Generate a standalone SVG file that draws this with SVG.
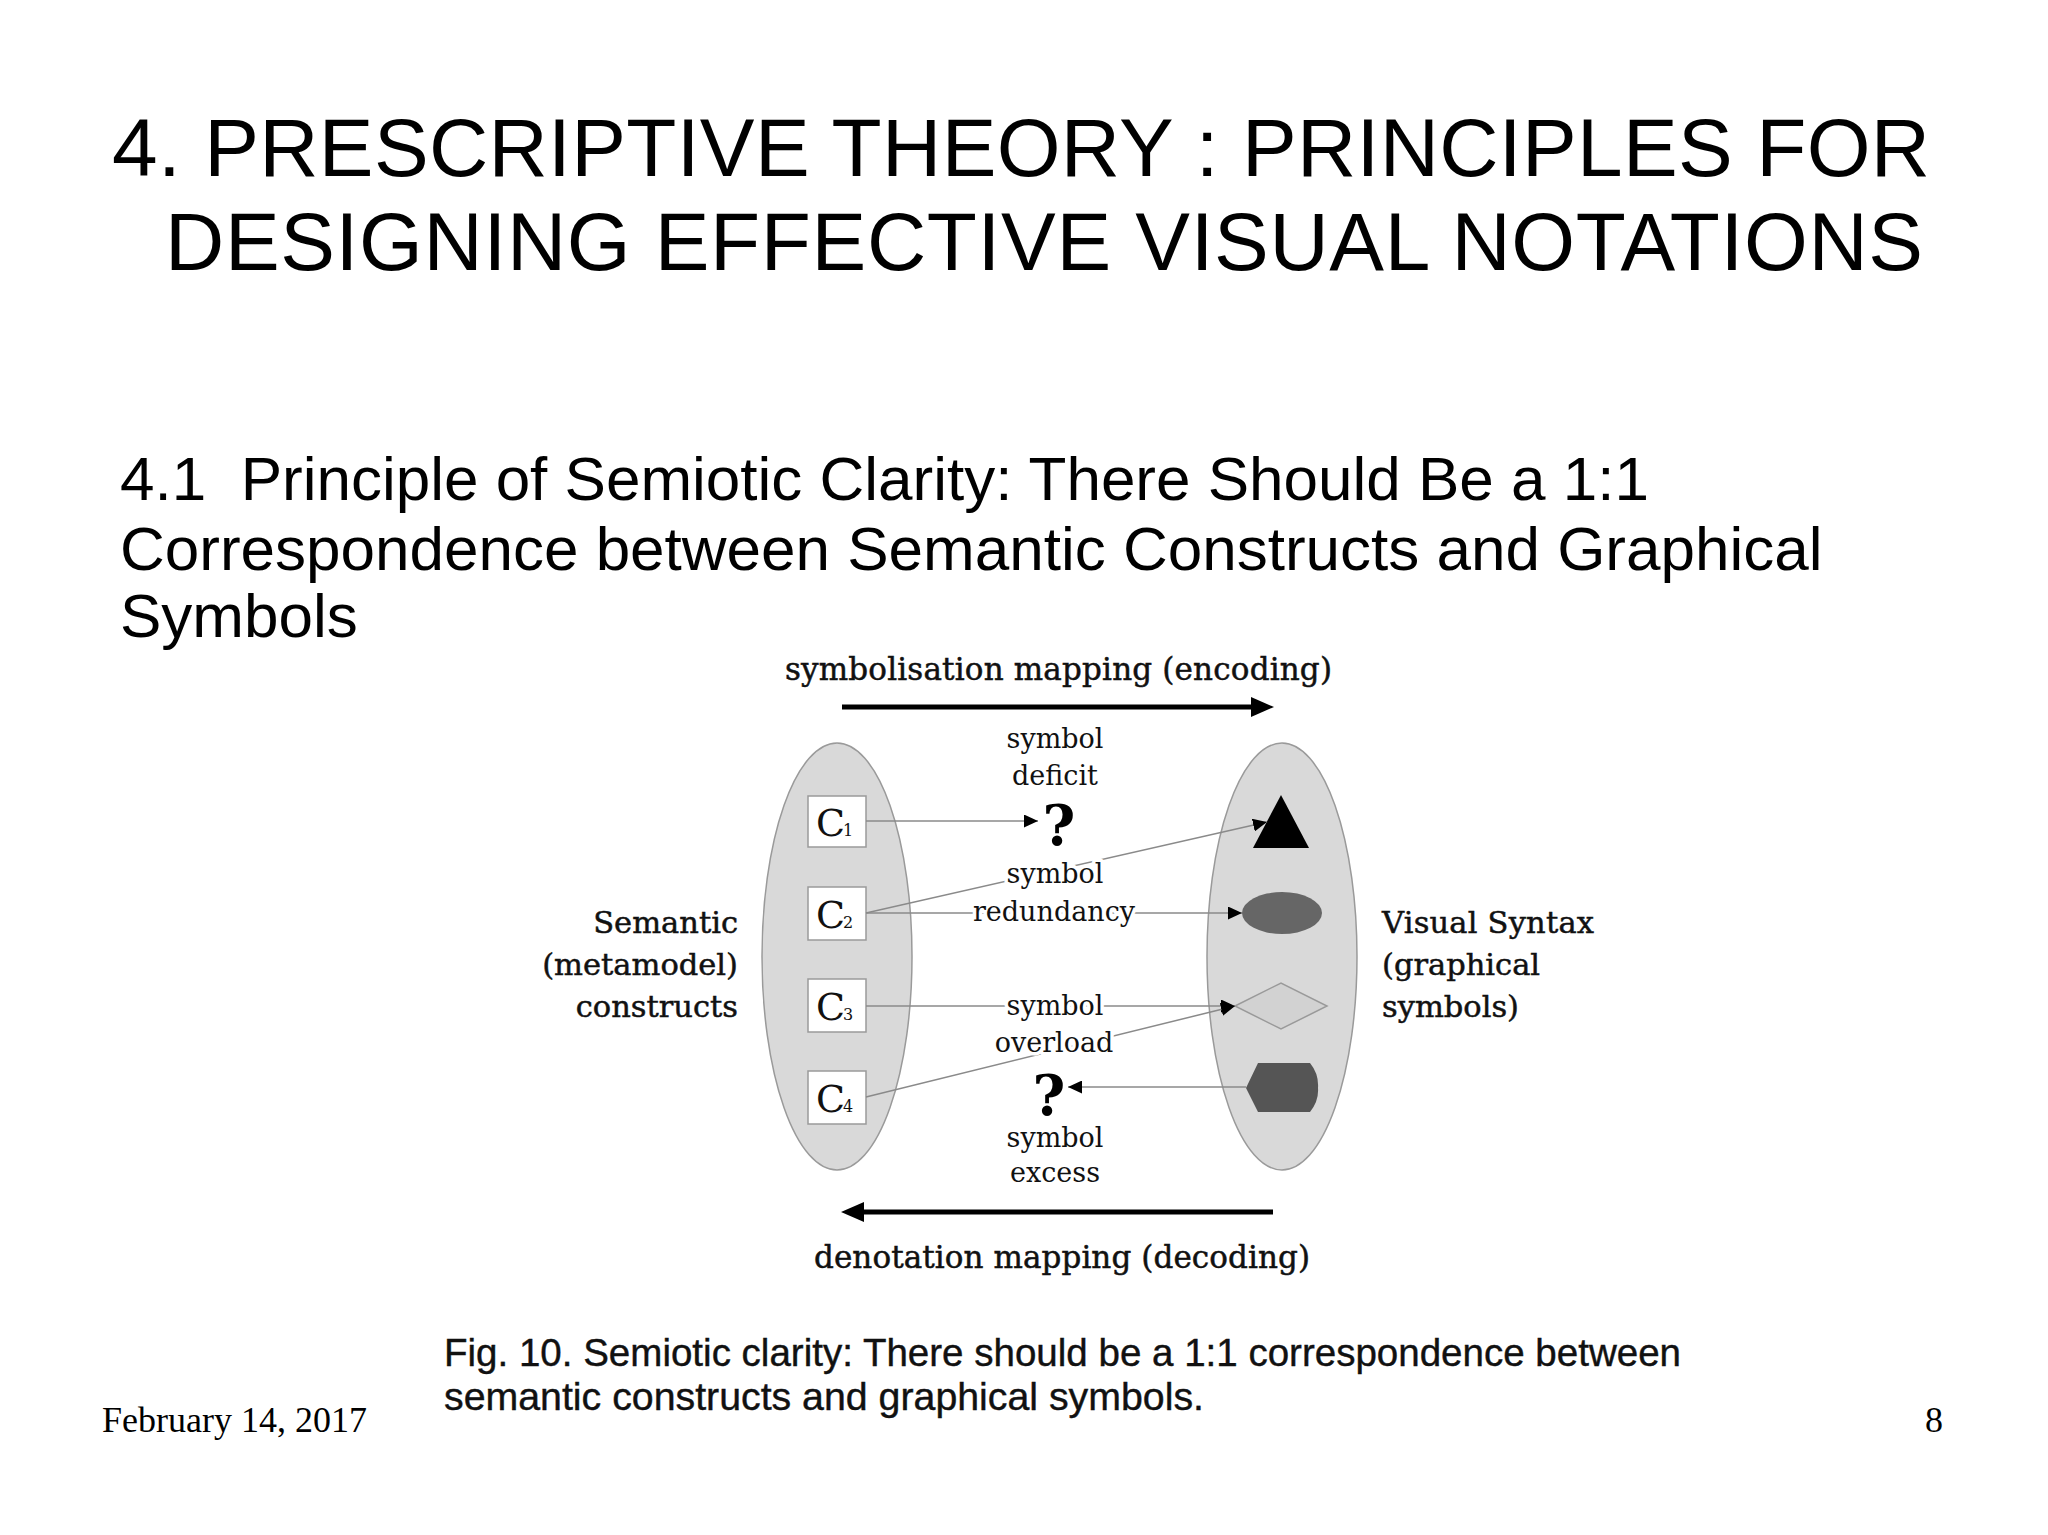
<svg xmlns="http://www.w3.org/2000/svg" width="2048" height="1535" viewBox="0 0 2048 1535">
<style>
.title{font-family:"Liberation Sans",Arial,sans-serif;font-size:82px;fill:#000}
.sub{font-family:"Liberation Sans",Arial,sans-serif;font-size:62px;fill:#000}
.ser{font-family:"DejaVu Serif",Georgia,serif;fill:#111}
.dk{stroke:#111;stroke-width:0.5px}
.lbl{font-size:30.5px}
.mid{font-size:27px;text-anchor:middle;stroke:#fff;stroke-width:7px;paint-order:stroke;stroke-linejoin:round}
.q{font-family:"DejaVu Serif",Georgia,serif;font-weight:bold;font-size:56px;text-anchor:middle;fill:#000}
.c{font-family:"DejaVu Serif",Georgia,serif;font-size:38px;fill:#111}
.cs{font-family:"DejaVu Serif",Georgia,serif;font-size:16px;fill:#111}
.box{fill:#fff;stroke:#9a9a9a;stroke-width:1.5}
.oval{fill:#d9d9d9;stroke:#9a9a9a;stroke-width:1.5}
.conn{stroke:#8a8a8a;stroke-width:1.5;fill:none}
.cap{font-family:"Liberation Sans Narrow","Liberation Sans",Arial,sans-serif;font-size:38px;fill:#111;stroke:#111;stroke-width:0.4px}
.foot{font-family:"Liberation Serif","Times New Roman",serif;font-size:36px;fill:#000}
</style>
<defs>
<marker id="ah" markerUnits="userSpaceOnUse" markerWidth="14" markerHeight="13" refX="14" refY="6.5" orient="auto">
<path d="M0,0 L14,6.5 L0,13 Z" fill="#000"/>
</marker>
</defs>
<rect width="2048" height="1535" fill="#fff"/>

<g id="title">
<text class="title" x="112" y="176" textLength="1818">4. PRESCRIPTIVE THEORY : PRINCIPLES FOR</text>
<text class="title" x="165" y="270" textLength="1758">DESIGNING EFFECTIVE VISUAL NOTATIONS</text>
</g>
<g id="subtitle">
<text class="sub" x="120" y="500" xml:space="preserve">4.1  Principle of Semiotic Clarity: There Should Be a 1:1</text>
<text class="sub" x="120" y="570">Correspondence between Semantic Constructs and Graphical</text>
<text class="sub" x="120" y="637">Symbols</text>
</g>

<g id="semantic-constructs">
<ellipse class="oval" cx="837" cy="956.5" rx="75" ry="213.5"/>
</g>
<g id="visual-syntax">
<ellipse class="oval" cx="1282" cy="956.5" rx="75" ry="213.5"/>
</g>

<g id="C1"><rect class="box" x="808" y="796" width="58" height="51"/><text class="c" x="816" y="836">C</text><text class="cs" x="843" y="836">1</text></g>
<g id="C2"><rect class="box" x="808" y="887" width="58" height="53"/><text class="c" x="816" y="928">C</text><text class="cs" x="843" y="928">2</text></g>
<g id="C3"><rect class="box" x="808" y="979" width="58" height="53"/><text class="c" x="816" y="1020">C</text><text class="cs" x="843" y="1020">3</text></g>
<g id="C4"><rect class="box" x="808" y="1071" width="58" height="53"/><text class="c" x="816" y="1112">C</text><text class="cs" x="843" y="1112">4</text></g>

<g id="triangle"><polygon points="1281,795 1309,848 1253,848" fill="#000"/></g>
<g id="oval-symbol"><ellipse cx="1282" cy="913" rx="40" ry="21" fill="#666"/></g>
<g id="diamond"><polygon points="1235,1006 1281,983 1327,1006 1281,1029" fill="#d2d2d2" stroke="#9a9a9a" stroke-width="1.5"/></g>
<g id="hexagon"><path d="M1246,1088 L1258,1063 L1310,1063 Q1319,1074 1318,1088 Q1319,1101 1310,1112 L1258,1112 Z" fill="#555"/></g>

<g id="connectors">
<line class="conn" x1="866" y1="821" x2="1038" y2="821" marker-end="url(#ah)"/>
<line class="conn" x1="866" y1="913" x2="1267" y2="822" marker-end="url(#ah)"/>
<line class="conn" x1="866" y1="913" x2="1242" y2="913" marker-end="url(#ah)"/>
<line class="conn" x1="866" y1="1006" x2="1235" y2="1006" marker-end="url(#ah)"/>
<line class="conn" x1="866" y1="1097" x2="1235" y2="1006" marker-end="url(#ah)"/>
<line class="conn" x1="1246" y1="1087" x2="1068" y2="1087" marker-end="url(#ah)"/>
<line x1="842" y1="707" x2="1254" y2="707" stroke="#000" stroke-width="5"/>
<polygon points="1251,697 1274,707 1251,717" fill="#000"/>
<line x1="862" y1="1212" x2="1273" y2="1212" stroke="#000" stroke-width="5"/>
<polygon points="864,1202 841,1212 864,1222" fill="#000"/>
</g>

<g id="labels">
<text class="ser dk" x="785" y="680" font-size="31" textLength="547">symbolisation mapping (encoding)</text>
<text class="ser dk" x="814" y="1268" font-size="31" textLength="496">denotation mapping (decoding)</text>
<text class="ser lbl dk" x="738" y="933" text-anchor="end">Semantic</text>
<text class="ser lbl dk" x="738" y="975" text-anchor="end">(metamodel)</text>
<text class="ser lbl dk" x="738" y="1017" text-anchor="end">constructs</text>
<text class="ser lbl dk" x="1382" y="933" textLength="212">Visual Syntax</text>
<text class="ser lbl dk" x="1382" y="975">(graphical</text>
<text class="ser lbl dk" x="1382" y="1017">symbols)</text>
<text class="ser mid" x="1055" y="748">symbol</text>
<text class="ser mid" x="1055" y="785">deficit</text>
<text class="ser mid" x="1055" y="883">symbol</text>
<text class="ser mid" x="1054" y="921">redundancy</text>
<text class="ser mid" x="1055" y="1015">symbol</text>
<text class="ser mid" x="1054" y="1052">overload</text>
<text class="ser mid" x="1055" y="1147">symbol</text>
<text class="ser mid" x="1055" y="1182">excess</text>
<text class="q" x="1059" y="845">?</text>
<text class="q" x="1049" y="1115">?</text>
</g>

<g id="caption">
<text class="cap" x="444" y="1366" textLength="1237" lengthAdjust="spacingAndGlyphs">Fig. 10. Semiotic clarity: There should be a 1:1 correspondence between</text>
<text class="cap" x="444" y="1410" textLength="760" lengthAdjust="spacingAndGlyphs">semantic constructs and graphical symbols.</text>
</g>
<g id="footer">
<text class="foot" x="102" y="1432">February 14, 2017</text>
<text class="foot" x="1943" y="1432" text-anchor="end">8</text>
</g>
</svg>
